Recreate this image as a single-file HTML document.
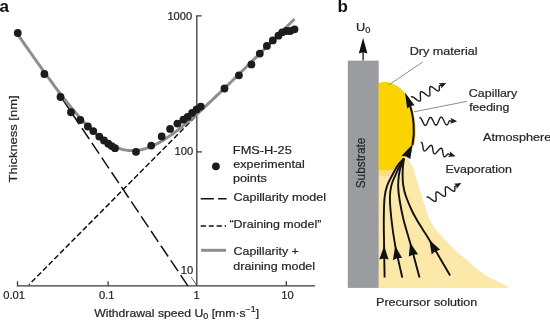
<!DOCTYPE html>
<html>
<head>
<meta charset="utf-8">
<style>
html,body{margin:0;padding:0;background:#fff;}
body{width:550px;height:320px;overflow:hidden;}
svg{display:block;}
text{font-family:"Liberation Sans",Arial,sans-serif;fill:#262626;stroke:#262626;stroke-width:0.22px;}
.b{font-weight:bold;fill:#111;stroke:none;}
</style>
</head>
<body>
<svg width="550" height="320" viewBox="0 0 550 320">
<rect width="550" height="320" fill="#fff"/>
<!-- ===== Panel a ===== -->
<text class="b" x="-0.6" y="11.9" font-size="17">a</text>
<!-- axes -->
<g fill="none" stroke="#3a3a3a" stroke-width="1.3">
<path d="M17.5 281.2 V285.9 H315"/>
<path d="M108.1 281.2 V285.9"/>
<path d="M286.3 281.2 V285.9"/>
<path d="M201.6 15.9 H196.8 V285.9"/>
<path d="M196.8 151.9 H202"/>
</g>
<!-- dashed model lines -->
<path d="M187.9 285.9 L58 92.48" fill="none" stroke="#111" stroke-width="1.5" stroke-dasharray="13 4.7"/>
<path d="M28.9 284.79 L196 116.02" fill="none" stroke="#111" stroke-width="1.5" stroke-dasharray="5.5 2.6" stroke-dashoffset="-3.8"/>
<!-- gray combined curve -->
<path d="M17.75 34.39 L19.25 36.55 L20.75 38.72 L22.25 40.88 L23.75 43.03 L25.25 45.18 L26.75 47.33 L28.25 49.48 L29.75 51.62 L31.25 53.75 L32.75 55.88 L34.25 58.01 L35.75 60.13 L37.25 62.25 L38.75 64.36 L40.25 66.46 L41.75 68.55 L43.25 70.64 L44.75 72.72 L46.25 74.8 L47.75 76.86 L49.25 78.92 L50.75 80.96 L52.25 83 L53.75 85.02 L55.25 87.03 L56.75 89.03 L58.25 91.02 L59.75 93 L61.25 94.96 L62.75 96.9 L64.25 98.83 L65.75 100.74 L67.25 102.64 L68.75 104.51 L70.25 106.37 L71.75 108.2 L73.25 110.02 L74.75 111.81 L76.25 113.58 L77.75 115.32 L79.25 117.03 L80.75 118.72 L82.25 120.38 L83.75 122.01 L85.25 123.61 L86.75 125.17 L88.25 126.7 L89.75 128.19 L91.25 129.65 L92.75 131.07 L94.25 132.45 L95.75 133.79 L97.25 135.08 L98.75 136.34 L100.25 137.54 L101.75 138.7 L103.25 139.81 L104.75 140.87 L106.25 141.89 L107.75 142.85 L109.25 143.75 L110.75 144.61 L112.25 145.41 L113.75 146.15 L115.25 146.84 L116.75 147.47 L118.25 148.04 L119.75 148.56 L121.25 149.02 L122.75 149.42 L124.25 149.76 L125.75 150.04 L127.25 150.27 L128.75 150.44 L130.25 150.55 L131.75 150.6 L133.25 150.6 L134.75 150.54 L136.25 150.42 L137.75 150.25 L139.25 150.03 L140.75 149.76 L142.25 149.43 L143.75 149.06 L145.25 148.64 L146.75 148.17 L148.25 147.65 L149.75 147.09 L151.25 146.48 L152.75 145.84 L154.25 145.15 L155.75 144.42 L157.25 143.66 L158.75 142.86 L160.25 142.02 L161.75 141.16 L163.25 140.25 L164.75 139.32 L166.25 138.36 L167.75 137.37 L169.25 136.35 L170.75 135.31 L172.25 134.24 L173.75 133.15 L175.25 132.04 L176.75 130.9 L178.25 129.75 L179.75 128.58 L181.25 127.38 L182.75 126.18 L184.25 124.95 L185.75 123.71 L187.25 122.45 L188.75 121.18 L190.25 119.9 L191.75 118.6 L193.25 117.3 L194.75 115.98 L196.25 114.65 L197.75 113.31 L199.25 111.96 L200.75 110.6 L202.25 109.24 L203.75 107.87 L205.25 106.48 L206.75 105.1 L208.25 103.7 L209.75 102.3 L211.25 100.89 L212.75 99.48 L214.25 98.06 L215.75 96.64 L217.25 95.21 L218.75 93.78 L220.25 92.35 L221.75 90.91 L223.25 89.46 L224.75 88.02 L226.25 86.57 L227.75 85.12 L229.25 83.66 L230.75 82.2 L232.25 80.74 L233.75 79.28 L235.25 77.81 L236.75 76.35 L238.25 74.88 L239.75 73.4 L241.25 71.93 L242.75 70.46 L244.25 68.98 L245.75 67.5 L247.25 66.02 L248.75 64.54 L250.25 63.06 L251.75 61.58 L253.25 60.1 L254.75 58.61 L256.25 57.13 L257.75 55.64 L259.25 54.15 L260.75 52.66 L262.25 51.18 L263.75 49.69 L265.25 48.2 L266.75 46.71 L268.25 45.21 L269.75 43.72 L271.25 42.23 L272.75 40.74 L274.25 39.24 L275.75 37.75 L277.25 36.26 L278.75 34.76 L280.25 33.27 L281.75 31.77 L283.25 30.28 L284.75 28.78 L286.25 27.29 L287.75 25.79 L289.25 24.29 L290.75 22.8 L292.25 21.3 L293.75 19.8 L294.5 19.05" fill="none" stroke="#8e8e8e" stroke-width="3"/>
<!-- data points -->
<g fill="#1c1c1c"><circle cx="17.75" cy="33" r="3.9"/><circle cx="44.4" cy="74" r="3.9"/><circle cx="60.5" cy="97" r="3.9"/><circle cx="71" cy="112.25" r="3.9"/><circle cx="80.3" cy="120" r="3.9"/><circle cx="87.9" cy="126.5" r="3.9"/><circle cx="93.3" cy="131.1" r="3.9"/><circle cx="99.3" cy="136.6" r="3.9"/><circle cx="104" cy="140.5" r="3.9"/><circle cx="108.3" cy="143.7" r="3.9"/><circle cx="111.7" cy="146.1" r="3.9"/><circle cx="115" cy="148.2" r="3.9"/><circle cx="136" cy="151.8" r="3.9"/><circle cx="151.25" cy="145.6" r="3.9"/><circle cx="161.7" cy="136.4" r="3.9"/><circle cx="170.1" cy="128.9" r="3.9"/><circle cx="177.4" cy="123.6" r="3.9"/><circle cx="183.4" cy="119.7" r="3.9"/><circle cx="187.7" cy="116.9" r="3.9"/><circle cx="192.1" cy="112.9" r="3.9"/><circle cx="196.6" cy="109.5" r="3.9"/><circle cx="200.8" cy="106.6" r="3.9"/><circle cx="224.5" cy="88.5" r="3.9"/><circle cx="238.9" cy="75.3" r="3.9"/><circle cx="251.4" cy="64.4" r="3.9"/><circle cx="259.8" cy="53.6" r="3.9"/><circle cx="266.9" cy="45.9" r="3.9"/><circle cx="272.8" cy="40.4" r="3.9"/><circle cx="278.4" cy="35.7" r="3.9"/><circle cx="282.2" cy="32.3" r="3.9"/><circle cx="286.4" cy="31" r="3.9"/><circle cx="290.2" cy="31" r="3.9"/><circle cx="294.5" cy="29.3" r="3.9"/></g>
<path d="M191.2 277.2 L196.6 285.2" stroke="#444" stroke-width="0.8" fill="none"/>
<text transform="translate(167.38 20.30)" font-size="11.2">1000</text>
<text transform="translate(174.50 154.90)" font-size="11.2">100</text>
<text transform="translate(180.82 274.20)" font-size="11.2">10</text>
<text transform="translate(3.20 299.40)" font-size="11.2">0.01</text>
<text transform="translate(99.00 299.40)" font-size="11.2">0.1</text>
<text transform="translate(193.40 299.40)" font-size="11.2">1</text>
<text transform="translate(281.32 299.40)" font-size="11.2">10</text>
<text transform="translate(94.20 316.50) scale(1.0897 1)" font-size="11.2">Withdrawal speed U<tspan font-size="8.2" dy="2.4">0</tspan><tspan dy="-2.4"> [mm·s</tspan><tspan font-size="8.2" dy="-4.2">−1</tspan><tspan dy="4.2">]</tspan></text>
<text transform="translate(17.00 182.52) rotate(-90) scale(1.0990 1)" font-size="11.8">Thickness [nm]</text>
<!-- legend -->
<circle cx="215.9" cy="166.3" r="3.9" fill="#1c1c1c"/>
<text transform="translate(232.81 153.75) scale(1.0863 1)" font-size="11.8">FMS-H-25</text>
<text transform="translate(233.37 168.10) scale(1.0581 1)" font-size="11.8">experimental</text>
<text transform="translate(233.00 182.40) scale(1.0711 1)" font-size="11.8">points</text>
<text transform="translate(233.47 201.40) scale(1.0616 1)" font-size="11.8">Capillarity model</text>
<text transform="translate(229.47 228.00) scale(1.0551 1)" font-size="11.8">“Draining model”</text>
<text transform="translate(233.57 254.50) scale(1.0535 1)" font-size="11.8">Capillarity +</text>
<text transform="translate(233.37 269.60) scale(1.0566 1)" font-size="11.8">draining model</text>
<path d="M200.7 198.8 H213.8 M218.1 198.8 H226.6" stroke="#111" stroke-width="1.6"/>
<path d="M200.7 226 H206 M208.8 226 H213.8 M216.6 226 H221.9 M224.6 226 H226.1" stroke="#111" stroke-width="1.6"/>
<path d="M201.1 250.3 H226" stroke="#8e8e8e" stroke-width="3"/>

<!-- ===== Panel b ===== -->
<text class="b" x="337.6" y="12.4" font-size="17">b</text>
<text transform="translate(356.05 30.60) scale(1.1391 1)" font-size="11.2">U<tspan font-size="8.2" dy="2.6">0</tspan></text>
<path d="M363.1 60.6 V52" stroke="#111" stroke-width="1.3"/>
<path d="M363.1 37.8 L367.4 53.6 L363.1 52.2 L358.8 53.6 Z" fill="#111"/>
<!-- precursor (light yellow) -->
<path d="M402.5 140 C403.17 142 405.43 148.67 406.5 152 C407.57 155.33 408 157.83 408.9 160 C409.8 162.17 411.08 163.33 411.9 165 C412.72 166.67 412.97 167.5 413.8 170 C414.63 172.5 415.87 176.67 416.9 180 C417.93 183.33 418.97 186.67 420 190 C421.03 193.33 422.05 196.67 423.1 200 C424.15 203.33 425.15 206.67 426.3 210 C427.45 213.33 428.33 216.67 430 220 C431.67 223.33 433.7 226.67 436.3 230 C438.9 233.33 442.48 236.67 445.6 240 C448.72 243.33 451.45 246.67 455 250 C458.55 253.33 462.98 256.67 466.9 260 C470.82 263.33 475.15 267.33 478.5 270 C481.85 272.67 483.92 274.17 487 276 C490.08 277.83 494.17 279.57 497 281 C499.83 282.43 502.03 283.53 504 284.6 C505.97 285.67 508 286.93 508.8 287.4 L508 288 L378.7 288 L378.7 140 Z" fill="#fce9aa"/>
<!-- dry material drop -->
<path d="M378.7 83.2 C380.5 82.4 383 82 386.5 82.1 C390.5 82.4 395 84.3 399.5 87.6 C404 91 408 96.5 410.6 103 C413 109 414.6 117 415.4 125 C416 132 415.6 139 414.2 144.5 L412.6 146.5 L404 157 L398 165 L395.2 170.4 L378.7 170.4 Z" fill="#fbd300"/>
<path d="M378.7 170.2 L395.4 170.2 L391.8 176 L378.7 176 Z" fill="#f8dc82"/>
<!-- substrate -->
<rect x="347.8" y="60.6" width="30.9" height="227.3" fill="#9b9ca0"/>
<text transform="translate(364.80 188.29) rotate(-90) scale(0.9861 1)" font-size="12.0">Substrate</text>
<!-- capillary feeding line on drop edge -->
<path d="M409.6 104.5 C411.6 110 413 117 413.6 124 C414.2 131 413.8 138 412.5 145" fill="none" stroke="#111" stroke-width="2"/>
<path d="M405 92.4 L414.5 105.2 L410.6 105.9 L407.2 108.5 Z" fill="#111"/>
<path d="M412.7 144.2 L410.3 159 L406.2 156.6 L401.6 155.8 Z" fill="#111"/>
<!-- flow lines -->
<g fill="none" stroke="#111" stroke-width="1.9"><path d="M404 158.5 C403 159.58 399.93 162.25 398 165 C396.07 167.75 394.17 171.67 392.4 175 C390.63 178.33 388.7 181.33 387.4 185 C386.1 188.67 385.2 191.17 384.6 197 C384 202.83 383.88 211.83 383.8 220 C383.72 228.17 383.97 236.4 384.1 246 C384.23 255.6 384.52 272.33 384.6 277.6"/><path d="M404 158.5 C403.25 159.75 400.92 163.25 399.5 166 C398.08 168.75 396.83 171.83 395.5 175 C394.17 178.17 392.43 181.33 391.5 185 C390.57 188.67 389.9 191.17 389.9 197 C389.9 202.83 390.6 211.83 391.5 220 C392.4 228.17 393.5 236.4 395.3 246 C397.1 255.6 401.13 272.33 402.3 277.6"/><path d="M404 158.5 C403.5 159.75 401.85 163.25 401 166 C400.15 168.75 399.37 171.5 398.9 175 C398.43 178.5 398.08 182.83 398.2 187 C398.32 191.17 398.7 194.5 399.6 200 C400.5 205.5 401.83 212.83 403.6 220 C405.37 227.17 407.55 233.4 410.2 243 C412.85 252.6 417.95 271.83 419.5 277.6"/><path d="M404 158.5 C403.83 159.75 403.23 163.25 403 166 C402.77 168.75 402.57 171.83 402.6 175 C402.63 178.17 402.72 181.67 403.2 185 C403.68 188.33 404.1 190.83 405.5 195 C406.9 199.17 409.7 205.83 411.6 210 C413.5 214.17 414.98 216.67 416.9 220 C418.82 223.33 421.02 226.67 423.1 230 C425.18 233.33 424.9 232.4 429.4 240 C433.9 247.6 446.65 269.67 450.1 275.6"/></g><g fill="#111"><path d="M384.1 245.8 L379.3 259.6 L383.96 258.5 L388.6 259.6 Z"/><path d="M395.2 245.8 L392.9 260.2 L397.32 257.99 L402.1 257.9 Z"/><path d="M410.1 242.6 L408.8 256.6 L413.23 254.56 L418.2 254.6 Z"/><path d="M429.3 239.8 L431.7 254.6 L435.42 251.21 L440.2 249.8 Z"/></g>
<!-- leader lines -->
<path d="M422.8 61.9 L388.8 85" stroke="#666" stroke-width="0.75" fill="none"/>
<path d="M413.8 111.9 L467 101.3" stroke="#666" stroke-width="0.75" fill="none"/>
<!-- evaporation waves -->
<path d="M411.5 96.8 L411.82 96.71 L412.21 96.74 L412.66 96.88 L413.17 97.14 L413.73 97.48 L414.33 97.9 L414.95 98.36 L415.59 98.86 L416.24 99.36 L416.87 99.84 L417.48 100.28 L418.05 100.65 L418.58 100.94 L419.06 101.12 L419.47 101.2 L419.81 101.15 L420.09 100.98 L420.3 100.68 L420.45 100.26 L420.53 99.73 L420.57 99.11 L420.56 98.4 L420.51 97.64 L420.45 96.84 L420.38 96.03 L420.32 95.23 L420.27 94.46 L420.26 93.75 L420.29 93.12 L420.37 92.58 L420.51 92.15 L420.71 91.84 L420.98 91.66 L421.32 91.6 L421.73 91.66 L422.2 91.84 L422.72 92.12 L423.29 92.48 L423.9 92.91 L424.53 93.39 L425.17 93.89 L425.82 94.39 L426.44 94.86 L427.04 95.28 L427.61 95.63 L428.12 95.89 L428.58 96.05 L428.97 96.09 L429.3 96.01 L429.56 95.8 L429.75 95.47 L429.88 95.02 L429.95 94.47 L429.97 93.82 L429.95 93.1 L429.9 92.32 L429.84 91.51 L429.77 90.7 L429.71 89.91 L429.67 89.15 L429.67 88.46 L429.71 87.85 L429.8 87.35 L429.96 86.95 L430.18 86.67 L430.47 86.52 L430.83 86.5 L431.26 86.59 L431.74 86.8 L432.28 87.1 L432.86 87.49 L433.47 87.94 L434.11 88.42 L434.75 88.92 L435.39 89.41 L436.01 89.87 L436.6 90.28 L437.16 90.61 L437.65 90.84 L438.1 90.97 L438.47 90.98 L438.78 90.86 L439.02 90.62 L439.2 90.25 L439.31 89.77 L439.36 89.19 L439.37 88.52 L439.34 87.78 L439.29 87 L439.22 86.19 L443.49 84.18" fill="none" stroke="#1a1a1a" stroke-width="1.35" stroke-linejoin="round" stroke-linecap="round"/><path d="M446.2 82.9 L441.15 88.6 L441.31 85.2 L438.59 83.17 Z" fill="#1a1a1a"/><path d="M419.8 117.6 L420.13 117.66 L420.46 117.87 L420.8 118.22 L421.14 118.69 L421.48 119.26 L421.82 119.92 L422.17 120.64 L422.52 121.39 L422.86 122.15 L423.21 122.88 L423.55 123.56 L423.9 124.17 L424.24 124.68 L424.57 125.07 L424.91 125.33 L425.24 125.45 L425.56 125.42 L425.89 125.25 L426.21 124.93 L426.52 124.49 L426.83 123.94 L427.14 123.29 L427.45 122.57 L427.76 121.81 L428.07 121.04 L428.37 120.27 L428.68 119.55 L428.99 118.9 L429.3 118.33 L429.62 117.88 L429.94 117.55 L430.26 117.37 L430.59 117.32 L430.92 117.43 L431.25 117.68 L431.59 118.06 L431.93 118.55 L432.27 119.15 L432.61 119.83 L432.96 120.56 L433.31 121.32 L433.65 122.07 L434 122.79 L434.34 123.46 L434.69 124.04 L435.03 124.52 L435.36 124.88 L435.7 125.1 L436.02 125.18 L436.35 125.11 L436.67 124.9 L436.99 124.54 L437.3 124.07 L437.62 123.49 L437.92 122.82 L438.23 122.09 L438.54 121.32 L438.85 120.55 L439.15 119.79 L439.46 119.09 L439.77 118.45 L440.09 117.92 L440.4 117.5 L440.72 117.21 L441.04 117.06 L441.37 117.06 L441.7 117.2 L442.04 117.49 L442.37 117.9 L442.72 118.43 L443.06 119.05 L443.4 119.75 L443.75 120.49 L444.1 121.24 L444.44 121.99 L444.79 122.7 L445.13 123.35 L445.48 123.9 L445.81 124.35 L446.15 124.67 L446.48 124.85 L446.81 124.89 L447.13 124.78 L447.45 124.53 L447.77 124.15 L448.09 123.64 L448.4 123.03 L448.71 122.34 L449.01 121.6 L449.32 120.83 L454.2 121.06" fill="none" stroke="#1a1a1a" stroke-width="1.35" stroke-linejoin="round" stroke-linecap="round"/><path d="M457.2 121.2 L450.07 123.87 L451.81 120.95 L450.35 117.87 Z" fill="#1a1a1a"/><path d="M421.4 142.4 L421.69 142.55 L421.94 142.84 L422.15 143.24 L422.33 143.75 L422.49 144.36 L422.62 145.04 L422.74 145.77 L422.85 146.54 L422.95 147.31 L423.07 148.05 L423.19 148.76 L423.34 149.39 L423.51 149.94 L423.71 150.39 L423.95 150.71 L424.22 150.92 L424.53 150.99 L424.88 150.93 L425.26 150.75 L425.68 150.45 L426.13 150.05 L426.6 149.57 L427.08 149.03 L427.58 148.45 L428.09 147.86 L428.59 147.28 L429.08 146.73 L429.55 146.25 L430 145.84 L430.42 145.54 L430.8 145.34 L431.16 145.27 L431.47 145.33 L431.74 145.52 L431.98 145.84 L432.19 146.27 L432.36 146.81 L432.51 147.44 L432.64 148.14 L432.75 148.88 L432.86 149.65 L432.97 150.42 L433.09 151.15 L433.22 151.84 L433.37 152.46 L433.55 152.98 L433.76 153.39 L434.01 153.68 L434.29 153.85 L434.61 153.89 L434.97 153.79 L435.36 153.58 L435.79 153.25 L436.24 152.83 L436.72 152.33 L437.21 151.78 L437.71 151.19 L438.21 150.6 L438.71 150.03 L439.19 149.5 L439.66 149.03 L440.1 148.65 L440.51 148.37 L440.89 148.21 L441.23 148.18 L441.53 148.27 L441.8 148.5 L442.03 148.84 L442.23 149.31 L442.39 149.88 L442.53 150.53 L442.66 151.24 L442.77 151.99 L442.88 152.76 L442.99 153.52 L443.11 154.25 L443.24 154.92 L443.4 155.51 L443.59 156 L443.81 156.38 L444.07 156.64 L444.36 156.77 L444.69 156.77 L445.06 156.65 L445.46 156.4 L445.89 156.05 L446.35 155.6 L446.84 155.09 L447.33 154.52 L447.83 153.93 L452.63 155.41" fill="none" stroke="#1a1a1a" stroke-width="1.35" stroke-linejoin="round" stroke-linecap="round"/><path d="M455.5 156.3 L447.93 157.1 L450.34 154.71 L449.7 151.37 Z" fill="#1a1a1a"/><path d="M427.1 197.1 L427.42 197.01 L427.81 197.04 L428.26 197.18 L428.77 197.44 L429.33 197.78 L429.93 198.2 L430.55 198.66 L431.19 199.16 L431.84 199.66 L432.47 200.14 L433.08 200.58 L433.65 200.95 L434.18 201.24 L434.66 201.42 L435.07 201.5 L435.41 201.45 L435.69 201.28 L435.9 200.98 L436.05 200.56 L436.13 200.03 L436.17 199.41 L436.16 198.7 L436.11 197.94 L436.05 197.14 L435.98 196.33 L435.92 195.53 L435.87 194.76 L435.86 194.05 L435.89 193.42 L435.97 192.88 L436.11 192.45 L436.31 192.14 L436.58 191.96 L436.92 191.9 L437.33 191.96 L437.8 192.14 L438.32 192.42 L438.89 192.78 L439.5 193.21 L440.13 193.69 L440.77 194.19 L441.42 194.69 L442.04 195.16 L442.64 195.58 L443.21 195.93 L443.72 196.19 L444.18 196.35 L444.57 196.39 L444.9 196.31 L445.16 196.1 L445.35 195.77 L445.48 195.32 L445.55 194.77 L445.57 194.12 L445.55 193.4 L445.5 192.62 L445.44 191.81 L445.37 191 L445.31 190.21 L445.27 189.45 L445.27 188.76 L445.31 188.15 L445.4 187.65 L445.56 187.25 L445.78 186.97 L446.07 186.82 L446.43 186.8 L446.86 186.89 L447.34 187.1 L447.88 187.4 L448.46 187.79 L449.07 188.24 L449.71 188.72 L450.35 189.22 L450.99 189.71 L451.61 190.17 L452.2 190.58 L452.76 190.91 L453.25 191.14 L453.7 191.27 L454.07 191.28 L454.38 191.16 L454.62 190.92 L454.8 190.55 L454.91 190.07 L454.96 189.49 L454.97 188.82 L454.94 188.08 L454.89 187.3 L454.82 186.49 L458.73 184.47" fill="none" stroke="#1a1a1a" stroke-width="1.35" stroke-linejoin="round" stroke-linecap="round"/><path d="M461.4 183.1 L456.55 188.97 L456.6 185.57 L453.8 183.64 Z" fill="#1a1a1a"/>
<!-- labels -->
<text transform="translate(409.73 54.85) scale(1.0688 1)" font-size="11.8">Dry material</text>
<text transform="translate(468.87 96.70) scale(1.0541 1)" font-size="11.8">Capillary</text>
<text transform="translate(469.14 110.80) scale(1.0384 1)" font-size="11.8">feeding</text>
<text transform="translate(483.10 141.10) scale(1.0714 1)" font-size="11.8">Atmosphere</text>
<text transform="translate(445.44 173.10) scale(1.0580 1)" font-size="11.8">Evaporation</text>
<text transform="translate(376.04 305.80) scale(1.0649 1)" font-size="11.8">Precursor solution</text>
</svg>
</body>
</html>
